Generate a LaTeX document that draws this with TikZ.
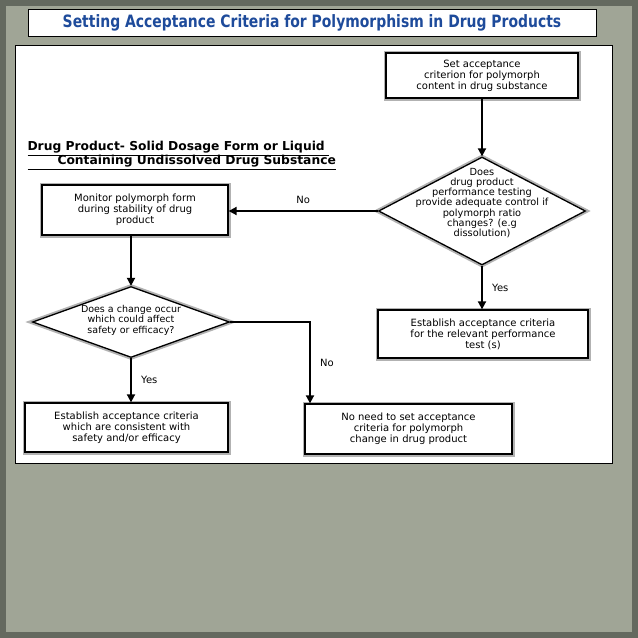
\documentclass[tikz,border=0pt]{standalone}
\usepackage{fontspec}
\setmainfont{DejaVu Sans}
\usetikzlibrary{shapes.geometric,arrows.meta}
\begin{document}
\begin{tikzpicture}[x=1pt,y=-1pt,
  bx/.style={draw=black,line width=1.3pt,fill=white,align=center,font=\fontsize{10}{11}\selectfont,inner sep=2pt,
    preaction={draw=gray!60,line width=5pt}},
  dm/.style={diamond,draw=black,line width=1.3pt,fill=white,inner sep=0pt,
    preaction={draw=gray!60,line width=5pt}},
  ar/.style={line width=1.8pt,-{Triangle[length=8pt,width=8pt]}},
  lb/.style={font=\fontsize{10}{11}\selectfont}]
\useasboundingbox (0,0) rectangle (638,638);
\fill[color={rgb,255:red,160;green,165;blue,150}] (0,0) rectangle (638,638);
\draw[color={rgb,255:red,100;green,105;blue,95},line width=6pt] (3,3) rectangle (635,635);
\node[draw=black,fill=white,minimum width=568pt,minimum height=27pt,inner sep=0pt] (title) at (312,23) {};
\node[font=\fontsize{17}{18}\selectfont\bfseries,text={rgb,255:red,30;green,75;blue,155},xscale=0.82] at (312,23)
  {Setting Acceptance Criteria for Polymorphism in Drug Products};
\node[draw=black,line width=1pt,fill=white,minimum width=597pt,minimum height=418pt,inner sep=0pt] (panel) at (313.5,254) {};
\node[bx,minimum width=192pt,minimum height=45pt] (b1) at (482,75.5) {Set acceptance\\criterion for polymorph\\content in drug substance};
\node[font=\fontsize{12.3}{14}\selectfont\bfseries,align=left,anchor=north west] (hd) at (24,138)
 {\underline{Drug Product- Solid Dosage Form or Liquid }\\\underline{\ \ \ \ \ \ \ Containing Undissolved Drug Substance}};
\node[dm,minimum width=207pt,minimum height=108pt] (d1) at (482,211) {};
\node[align=center,font=\fontsize{9.8}{10.3}\selectfont] at (482,203) {Does\\drug product\\performance testing\\provide adequate control if\\polymorph ratio\\changes? (e.g\\dissolution)};
\node[bx,minimum width=186pt,minimum height=50pt] (b2) at (135,210) {Monitor polymorph form\\during stability of drug\\product};
\node[bx,minimum width=210pt,minimum height=48pt] (b3) at (483,334) {Establish acceptance criteria\\for the relevant performance\\test (s)};
\node[dm,minimum width=197pt,minimum height=71pt] (d2) at (131,322) {};
\node[align=center,font=\fontsize{9.5}{10.5}\selectfont] at (131,320) {Does a change occur\\which could affect\\safety or efficacy?};
\node[bx,minimum width=203pt,minimum height=49pt] (b4) at (126.5,427.5) {Establish acceptance criteria\\which are consistent with\\safety and/or efficacy};
\node[bx,minimum width=207pt,minimum height=50pt] (b5) at (408.5,429) {No need to set acceptance\\criteria for polymorph\\change in drug product};
\draw[ar] (b1) -- (d1.north);
\draw[ar] (d1.west) -- (d1.west -| b2.east) node[lb,midway,above=3pt] {No};
\draw[ar] (d1.south) -- (d1.south |- b3.north) node[lb,midway,right=6pt] {Yes};
\draw[ar] (b2.south -| d2.north) -- (d2.north);
\draw[ar] (d2.south) -- (d2.south |- b4.north) node[lb,midway,right=6pt] {Yes};
\coordinate (c1) at (310,322);
\draw[ar] (d2.east) -- (c1) -- (c1 |- b5.north) node[lb,midway,right=6pt] {No};
\end{tikzpicture}
\end{document}
